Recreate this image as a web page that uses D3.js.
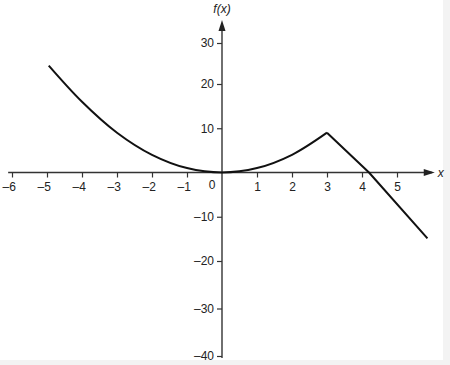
<!DOCTYPE html>
<html>

<head>
    <title>f(x) graph</title>
    <meta charset='utf-8'>
    <style>
        body {
            margin: 0;
            background: #f3f3f3;
        }

        text {
            font-family: "Liberation Sans", Arial, sans-serif;
            fill: #222;
        }
    </style>
</head>

<script src="https://d3js.org/d3.v7.min.js"></script>

<body>
    <div id="chart"></div>

    <script>
        // tick labels
        const xTicks = [-6, -5, -4, -3, -2, -1, 1, 2, 3, 4, 5];
        const yTicks = [30, 20, 10, -10, -20, -30, -40];

        // curved part
        const curveX = [-4.95, -4, -3, -2, -1, 0, 1, 2, 3];
        const curveY = [24.5, 16, 9, 4, 1, 0, 1, 4, 9];

        // straight part after the corner
        const lineX = [3, 4.2, 5.87];
        const lineY = [9, 0, -14.9];

        const width = 450,
            height = 365,
            plotW = 443,
            plotH = 360;

        const svg = d3.select("#chart")
            .append("svg")
            .attr("width", width)
            .attr("height", height)
            .style("display", "block")
            .style("background", "#f3f3f3");

        // white page area
        svg.append("rect")
            .attr("width", plotW)
            .attr("height", plotH)
            .attr("fill", "#fff");

        const x = d3.scaleLinear()
            .domain([-6, 5])
            .range([12, 397]);

        // the scan is a little stretched at the ends
        const y = d3.scaleLinear()
            .domain([-40, -20, 20, 30])
            .range([356, 261, 84, 43]);

        const axisColor = "#333";

        // x axis line + arrow
        svg.append("line")
            .attr("x1", x(-6.11)).attr("x2", x(6.0))
            .attr("y1", y(0)).attr("y2", y(0))
            .attr("stroke", axisColor)
            .attr("stroke-width", 1.4);
        svg.append("path")
            .attr("d", `M${x(6.05) + 1},${y(0)} l-11,-3.5 l0,7 z`)
            .attr("fill", "#222");

        // y axis line + arrow
        svg.append("line")
            .attr("x1", x(0)).attr("x2", x(0))
            .attr("y1", y(-40) + 2).attr("y2", 24)
            .attr("stroke", axisColor)
            .attr("stroke-width", 1.4);
        svg.append("path")
            .attr("d", `M${x(0)},20 l-3.5,11 l7,0 z`)
            .attr("fill", "#222");

        // x ticks
        const gx = svg.append("g")
            .attr("transform", `translate(0, ${y(0)})`)
            .call(d3.axisBottom(x).tickValues(xTicks).tickSize(5).tickPadding(5)
                .tickFormat(d => d < 0 ? "\u2013" + Math.abs(d) : d));
        gx.select(".domain").remove();
        gx.selectAll(".tick line").attr("stroke", axisColor).attr("stroke-width", 1.2);
        gx.selectAll(".tick text")
            .style("font-size", "12px")
            .attr("text-anchor", d => d < 0 ? "end" : "middle")
            .attr("dx", d => d < 0 ? 3.4 : 0);

        // y ticks
        const gy = svg.append("g")
            .attr("transform", `translate(${x(0)}, 0)`)
            .call(d3.axisLeft(y).tickValues(yTicks).tickSize(5).tickPadding(3)
                .tickFormat(d => d < 0 ? "\u2013" + Math.abs(d) : d));
        gy.select(".domain").remove();
        gy.selectAll(".tick line").attr("stroke", axisColor).attr("stroke-width", 1.2);
        gy.selectAll(".tick text").style("font-size", "12px");

        // origin label
        svg.append("text")
            .attr("x", x(0) - 10)
            .attr("y", y(0) + 16)
            .attr("text-anchor", "middle")
            .style("font-size", "12px")
            .text("0");

        // axis names
        svg.append("text")
            .attr("x", x(0))
            .attr("y", 13)
            .attr("text-anchor", "middle")
            .style("font-size", "12px")
            .style("font-style", "italic")
            .text("f(x)");
        svg.append("text")
            .attr("x", x(6.05) + 7)
            .attr("y", y(0) + 4)
            .attr("text-anchor", "middle")
            .style("font-size", "12px")
            .style("font-style", "italic")
            .text("x");

        // graph
        const curvePts = curveX.map((d, i) => [d, curveY[i]]);
        const linePts = lineX.map((d, i) => [d, lineY[i]]);

        svg.append("path")
            .datum(curvePts)
            .attr("fill", "none")
            .attr("stroke", "#111")
            .attr("stroke-width", 2)
            .attr("d", d3.line().x(d => x(d[0])).y(d => y(d[1])).curve(d3.curveCatmullRom.alpha(0.5)));

        svg.append("path")
            .datum(linePts)
            .attr("fill", "none")
            .attr("stroke", "#111")
            .attr("stroke-width", 2)
            .attr("stroke-linejoin", "round")
            .attr("d", d3.line().x(d => x(d[0])).y(d => y(d[1])));
    </script>
</body>

</html>
